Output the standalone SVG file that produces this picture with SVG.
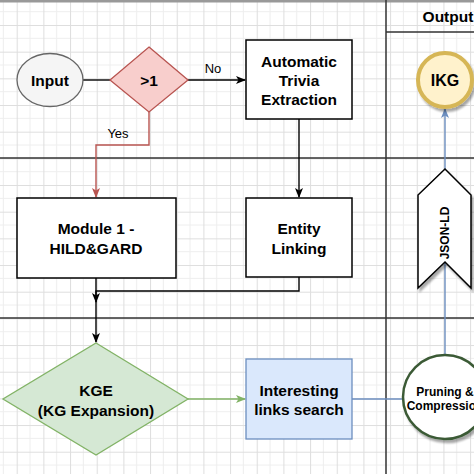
<svg xmlns="http://www.w3.org/2000/svg" width="474" height="474" viewBox="0 0 474 474">
<style>
.t{font-family:"Liberation Sans",Arial,sans-serif;font-weight:bold;text-anchor:middle;fill:#000}
.lbl{font-family:"Liberation Sans",Arial,sans-serif;text-anchor:middle;fill:#000;font-size:13px}
.lane{stroke:#333;stroke-width:1.5;fill:none}
.edge{fill:none;stroke-width:1.4}
</style>
<defs>
<pattern id="grid" width="26.67" height="26.67" patternUnits="userSpaceOnUse" x="16.7" y="25">
<rect width="26.67" height="26.67" fill="#fff"/>
<path d="M13.33,0V26.67M0,13.33H26.67" stroke="#eeeeee" stroke-width="1"/>
<path d="M0.5,0V26.67M0,0.5H26.67" stroke="#dedede" stroke-width="1"/>
</pattern>
<marker id="ab" markerWidth="10" markerHeight="10" refX="9" refY="5" orient="auto" markerUnits="userSpaceOnUse">
<path d="M0,1 L10,5 L0,9 L2.5,5 z" fill="#000"/>
</marker>
<marker id="ar" markerWidth="10" markerHeight="10" refX="9" refY="5" orient="auto" markerUnits="userSpaceOnUse">
<path d="M0,1 L10,5 L0,9 L2.5,5 z" fill="#b85450"/>
</marker>
<marker id="ag" markerWidth="10" markerHeight="10" refX="9" refY="5" orient="auto" markerUnits="userSpaceOnUse">
<path d="M0,1 L10,5 L0,9 L2.5,5 z" fill="#82b366"/>
</marker>
<marker id="abl" markerWidth="10" markerHeight="10" refX="9" refY="5" orient="auto" markerUnits="userSpaceOnUse">
<path d="M0,1 L10,5 L0,9 L2.5,5 z" fill="#6c8ebf"/>
</marker>
<filter id="sh" x="-20%" y="-20%" width="150%" height="150%">
<feGaussianBlur in="SourceAlpha" stdDeviation="1"/>
<feOffset dx="2" dy="3" result="o"/>
<feComponentTransfer><feFuncA type="linear" slope="0.35"/></feComponentTransfer>
<feMerge><feMergeNode/><feMergeNode in="SourceGraphic"/></feMerge>
</filter>
</defs>
<rect width="474" height="474" fill="url(#grid)"/>
<g id="lanes">
<rect x="0" y="0" width="474" height="2.5" fill="#999"/>
<path class="lane" d="M0,158H474M0,318H474M386,0V474M386,32H474"/>
<text class="t" x="448" y="22" font-size="15.5">Output</text>
</g>
<g id="connectors">
<path class="edge" stroke="#000" d="M83,80H110"/>
<path class="edge" stroke="#000" d="M188,80H245" marker-end="url(#ab)"/>
<text class="lbl" x="213" y="73">No</text>
<path class="edge" stroke="#b85450" d="M149,112V145H96V197" marker-end="url(#ar)"/>
<text class="lbl" x="118" y="138">Yes</text>
<path class="edge" stroke="#000" d="M299,119V197" marker-end="url(#ab)"/>
<path class="edge" stroke="#000" d="M299,277V291H96V302" marker-end="url(#ab)"/>
<path class="edge" stroke="#000" d="M96,278V342" marker-end="url(#ab)"/>
<path class="edge" stroke="#82b366" d="M188,399H245" marker-end="url(#ag)"/>
<path class="edge" stroke="#6c8ebf" d="M352,399H403"/>
<path class="edge" stroke="#6c8ebf" d="M445,355V262"/>
<path class="edge" stroke="#6c8ebf" d="M445,169V109" marker-end="url(#abl)"/>
</g>
<g id="input">
<ellipse cx="50" cy="80" rx="33" ry="26.5" fill="#f5f5f5" stroke="#666" stroke-width="1.3"/>
<text class="t" x="50" y="86" font-size="15.5">Input</text>
</g>
<g id="decision">
<path d="M149,47L188,80L149,112L110,80Z" fill="#f8cecc" stroke="#b85450" stroke-width="1.3"/>
<text class="t" x="149" y="86" font-size="15.5">&gt;1</text>
</g>
<g id="ate">
<rect x="246" y="40" width="106" height="79" fill="#fff" stroke="#000" stroke-width="1.5"/>
<text class="t" font-size="15.5"><tspan x="299" y="67">Automatic</tspan><tspan x="299" y="86">Trivia</tspan><tspan x="299" y="105">Extraction</tspan></text>
</g>
<g id="module1">
<rect x="17" y="198" width="159" height="80" fill="#fff" stroke="#000" stroke-width="1.5"/>
<text class="t" font-size="15.5"><tspan x="96" y="234">Module 1 -</tspan><tspan x="96" y="254">HILD&amp;GARD</tspan></text>
</g>
<g id="entity">
<rect x="246" y="198" width="106" height="79" fill="#fff" stroke="#000" stroke-width="1.5"/>
<text class="t" font-size="15.5"><tspan x="299" y="234">Entity</tspan><tspan x="299" y="254">Linking</tspan></text>
</g>
<g id="kge">
<path d="M96,343L188,399L96,455L3,399Z" fill="#d5e8d4" stroke="#82b366" stroke-width="1.3"/>
<text class="t" font-size="15.5"><tspan x="96" y="396">KGE</tspan><tspan x="96" y="416">(KG Expansion)</tspan></text>
</g>
<g id="links">
<rect x="246" y="359" width="106" height="80" fill="#dae8fc" stroke="#6c8ebf" stroke-width="1.3"/>
<text class="t" font-size="15.5"><tspan x="299" y="396">Interesting</tspan><tspan x="299" y="415">links search</tspan></text>
</g>
<g id="pruning">
<circle cx="445" cy="397" r="42" fill="#fff" stroke="#3b5a36" stroke-width="2.5" filter="url(#sh)"/>
<text class="t" font-size="12"><tspan x="445" y="396">Pruning &amp;</tspan><tspan x="445" y="410">Compression</tspan></text>
</g>
<g id="jsonld">
<path d="M445,169L471,195V288L445,262L418,288V195Z" fill="#fff" stroke="#000" stroke-width="1.5" filter="url(#sh)"/>
<text class="t" font-size="12" transform="translate(449,233) rotate(-90)">JSON-LD</text>
</g>
<g id="ikg">
<circle cx="445" cy="80" r="27" fill="#fff2cc" stroke="#d6b656" stroke-width="4" filter="url(#sh)"/>
<text class="t" x="445" y="86" font-size="16">IKG</text>
</g>
</svg>
